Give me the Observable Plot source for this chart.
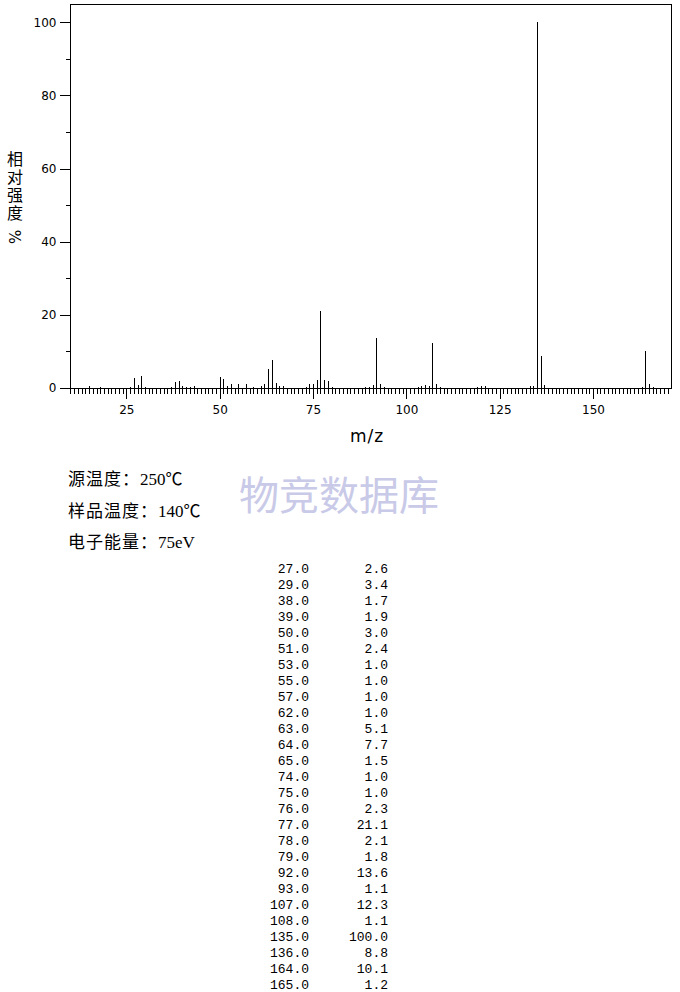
<!DOCTYPE html>
<html><head><meta charset="utf-8">
<script src="https://cdn.jsdelivr.net/npm/d3@7"></script>
<script src="https://cdn.jsdelivr.net/npm/@observablehq/plot@0.6"></script>
<style>
html,body{margin:0;padding:0;background:#fff;}
#page{position:relative;width:680px;height:992px;overflow:hidden;background:#fff;color:#000;}
#chart{position:absolute;left:0;top:0;}
#chart svg line,#chart svg path,#chart svg rect{shape-rendering:crispEdges;}
.ylab{position:absolute;left:7px;top:151px;writing-mode:vertical-rl;font-size:16px;font-family:"Noto Sans CJK SC";letter-spacing:2px;line-height:16px;}
.pct{position:absolute;left:6px;top:229px;width:16px;height:16px;font-family:"DejaVu Sans";font-size:15px;line-height:16px;text-align:center;transform:rotate(90deg);transform-origin:50% 50%;}
.xlab{position:absolute;left:350px;top:426px;font-size:17px;font-family:"DejaVu Sans";letter-spacing:1px;line-height:20px;white-space:nowrap;}
.cond{position:absolute;left:68px;font-size:17px;font-family:"Liberation Serif","Noto Sans CJK SC";line-height:20px;white-space:nowrap;}
.cond .cj{font-family:"Noto Sans CJK SC";letter-spacing:1px;}
.wm{position:absolute;left:239px;top:473px;font-size:40px;font-family:"Noto Sans CJK SC";color:#c9c9e8;line-height:40px;white-space:nowrap;}
.row{position:absolute;left:0;height:16px;line-height:16px;font-size:13px;font-family:"Liberation Mono";white-space:pre;}
.row .c1{position:absolute;width:60px;text-align:right;}
.row .c2{position:absolute;width:60px;text-align:right;}
</style>
</head>
<body>
<div id="page">
  <div id="chart"></div>
  <div class="ylab">相对强度</div>
  <div class="pct">%</div>
  <div class="xlab">m/z</div>
  <div class="cond" style="top:468px"><span class="cj">源温度：</span>250℃</div>
  <div class="cond" style="top:500px"><span class="cj">样品温度：</span>140℃</div>
  <div class="cond" style="top:531px"><span class="cj">电子能量：</span>75eV</div>
  <div class="wm">物竞数据库</div>
  <div id="table"></div>
</div>
<script>
// Listed peaks (table)
const mzValues = [27,29,38,39,50,51,53,55,57,62,63,64,65,74,75,76,77,78,79,92,93,107,108,135,136,164,165];
const intensities = [2.6,3.4,1.7,1.9,3.0,2.4,1.0,1.0,1.0,1.0,5.1,7.7,1.5,1.0,1.0,2.3,21.1,2.1,1.8,13.6,1.1,12.3,1.1,100.0,8.8,10.1,1.2];
// Small unlisted peaks
const minorMz = [15,18,26,28,30,37,40,41,42,43,52,59,61,66,67,73,80,89,90,91,94,103,104,105,106,109,119,120,121,133,134,137,163,166];
const minorIntensities = [0.6,0.3,0.35,0.9,0.3,0.35,0.55,0.35,0.35,0.45,0.6,0.4,0.45,0.6,0.45,0.35,0.4,0.3,0.35,0.9,0.3,0.3,0.6,0.9,0.5,0.35,0.35,0.6,0.6,0.45,0.6,0.9,0.35,0.35];
// Axes
const xDomain = [9.9, 170.9];
const yDomain = [0, 105];
const xMajorTicks = [25,50,75,100,125,150];
const xMinorTicks = d3.range(10, 171);
const yMajorTicks = [0,20,40,60,80,100];
const yMinorTicks = [10,30,50,70,90];

const peaks = mzValues.map((m,i)=>({mz:m, intensity:intensities[i]}))
  .concat(minorMz.map((m,i)=>({mz:m, intensity:minorIntensities[i]})));

const chart = Plot.plot({
  width: 680, height: 450,
  marginLeft: 70, marginRight: 9, marginTop: 4, marginBottom: 62,
  x: {domain: xDomain, label: null},
  y: {domain: yDomain, label: null},
  style: {fontFamily: "DejaVu Sans", fontSize: "12px", color: "#000", background: "transparent", overflow: "visible"},
  marks: [
    Plot.frame({stroke: "#000"}),
    Plot.axisX({ticks: xMinorTicks, tickSize: 6, tickFormat: () => "", label: null}),
    Plot.axisX({ticks: xMajorTicks, tickSize: 11, tickPadding: 6, label: null}),
    Plot.axisY({ticks: yMinorTicks, tickSize: 4.5, tickFormat: () => "", label: null}),
    Plot.axisY({ticks: yMajorTicks, tickSize: 10, tickPadding: 4, label: null}),
    Plot.ruleX(peaks, {x: "mz", y1: 0, y2: "intensity", stroke: "#000", strokeWidth: 1})
  ]
});
document.getElementById("chart").appendChild(chart);

const table = d3.select("#table");
mzValues.forEach((m,i)=>{
  const r = table.append("div").attr("class","row").style("top", (562 + 16*i) + "px");
  r.append("span").attr("class","c1").style("left","249px").text(m.toFixed(1));
  r.append("span").attr("class","c2").style("left","328px").text(intensities[i].toFixed(1));
});
</script>
</body></html>
